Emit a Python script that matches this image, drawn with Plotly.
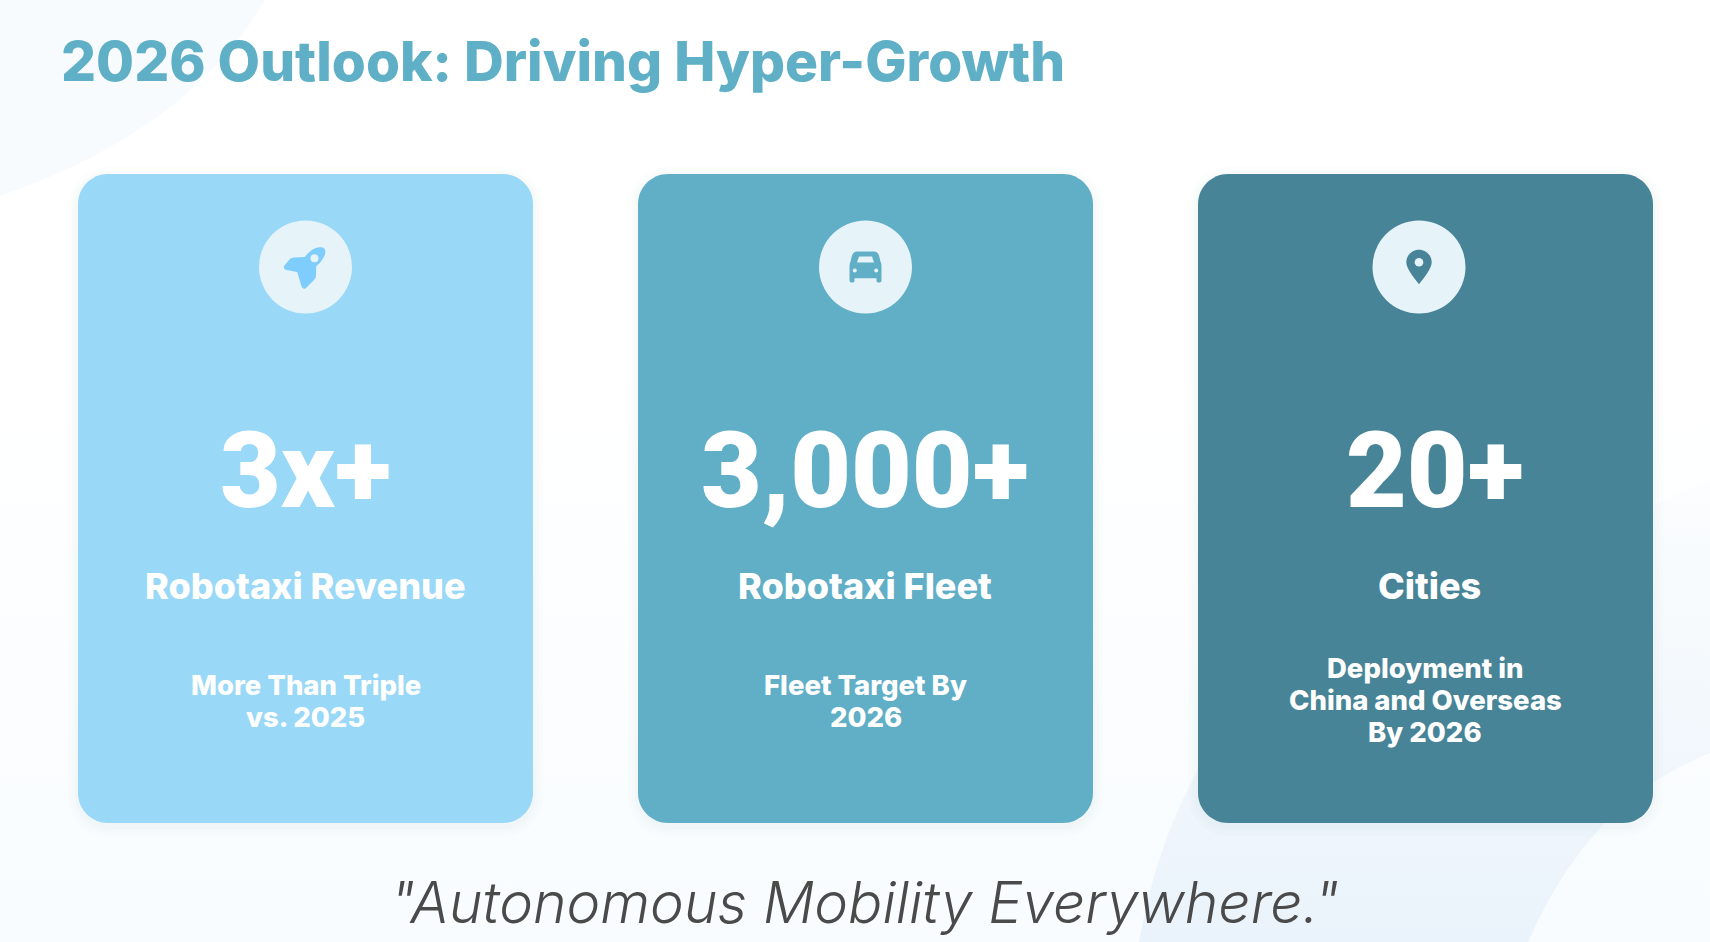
import re

import numpy as np
import plotly.graph_objects as go

# slide text
slide_title = "2026 Outlook: Driving Hyper-Growth"
slide_quote = '"Autonomous Mobility Everywhere."'
card_values = ["3x+", "3,000+", "20+"]
card_titles = ["Robotaxi Revenue", "Robotaxi Fleet", "Cities"]
card_notes = [
    ["More Than Triple", "vs. 2025"],
    ["Fleet Target By", "2026"],
    ["Deployment in", "China and Overseas", "By 2026"],
]

# layout, in pixels of the 1710x942 page
W, H = 1710, 942
CARD_LEFT = [78, 638, 1198]
CARD_W = 455
CARD_TOP, CARD_BOTTOM = 174, 823
CARD_R = 30
ICON_CX = [305.5, 865.5, 1419]
ICON_CY = 267
ICON_R = 46.5
VALUE_CX = [305, 865, 1435]
TITLE_CX = [305.5, 865, 1429]
NOTE_CX = [305.5, 865.5, 1425]
NOTE_BOTTOM = [727, 727, 742]

CARD_COLORS = ["#99D8F7", "#60AFC7", "#478497"]
ICON_COLORS = ["#7FCDFC", "#60AFC7", "#478497"]
CIRCLE_COLOR = "#E6F3F8"
TITLE_COLOR = "#5FAFC6"
QUOTE_COLOR = "#4A4A4A"
FONT = "Inter"
VALUE_FONT = "Roboto"

ROCKET = ("M14,-19.8 Q10,-19.5 6.7,-17.3 Q2,-14 -0.7,-10 L-12,-9.5 Q-15,-9.5 -16.5,-7 "
          "L-21.5,-1 Q-22.5,1.5 -20,2.7 L-8.3,5 L-5,16 Q-4,21 -1.7,21.7 Q-0.5,22 1,20.5 "
          "L8.5,13 Q10.5,11 10.5,8 L10.7,-0.7 Q15,-4 17.3,-8.3 Q19.3,-11 19.8,-14 "
          "Q20.5,-20.5 14,-19.8 Z")
CAR = ("M-8.5,-15.5 L8.5,-15.5 Q12,-15.5 13.5,-11.5 L15,-5.5 Q16,-3.5 16,-0.5 L16,13.5 Q16,15.5 14,15.5 "
       "L12.5,15.5 Q11,15.5 11,13.5 L11,11.2 L-11,11.2 L-11,13.5 Q-11,15.5 -12.5,15.5 L-14,15.5 "
       "Q-16,15.5 -16,13.5 L-16,-0.5 Q-16,-3.5 -15,-5.5 L-13.5,-11.5 Q-12,-15.5 -8.5,-15.5 Z "
       "M-6.5,-10.5 L6.5,-10.5 L8.5,-4.5 L-8.5,-4.5 Z")
PIN = ("M0,17.3 C-4,12 -12.7,2 -12.7,-4.7 C-12.7,-11.7 -7,-17.3 0,-17.3 "
       "C7,-17.3 12.7,-11.7 12.7,-4.7 C12.7,2 4,12 0,17.3 Z")
ICON_PATHS = [ROCKET, CAR, PIN]
# small round holes / lamps, relative to the icon centre: x, y, r
ICON_DOTS = [[(9, -8.7, 4)], [(-10.7, 3.5, 2), (10.7, 3.5, 2)], [(0, -4.7, 4.3)]]


def shift_path(path, dx, dy):
    """Move an absolute svg path by dx, dy."""
    def repl(m):
        return f"{float(m.group(1)) + dx:.2f},{float(m.group(2)) + dy:.2f}"
    return re.sub(r"(-?[\d.]+),(-?[\d.]+)", repl, path)


def rounded_rect(x0, y0, x1, y1, r):
    # k pulls the bezier handles so the corners come out as true arcs
    k = 0.45 * r
    return (f"M{x0 + r},{y0} L{x1 - r},{y0} C{x1 - k},{y0} {x1},{y0 + k} {x1},{y0 + r} "
            f"L{x1},{y1 - r} C{x1},{y1 - k} {x1 - k},{y1} {x1 - r},{y1} L{x0 + r},{y1} "
            f"C{x0 + k},{y1} {x0},{y1 - k} {x0},{y1 - r} L{x0},{y0 + r} "
            f"C{x0},{y0 + k} {x0 + k},{y0} {x0 + r},{y0} Z")


def quad(p0, p1, p2, n=40):
    t = np.linspace(0, 1, n)[:, None]
    p0, p1, p2 = np.array(p0), np.array(p1), np.array(p2)
    return (1 - t) ** 2 * p0 + 2 * t * (1 - t) * p1 + t ** 2 * p2


def add_text(text, cx, baseline, size, color, weight, anchor="center", italic=False, family=FONT):
    fig.add_annotation(
        x=cx, y=baseline - 0.36 * size, text=text, showarrow=False,
        xanchor=anchor, yanchor="middle",
        font=dict(family=family, size=size, color=color, weight=weight,
                  style="italic" if italic else "normal"),
    )


fig = go.Figure()

# page background, white fading to a very pale blue
fig.add_trace(go.Scatter(
    x=[0, W, W, 0, 0], y=[0, 0, H, H, 0], mode="lines", fill="toself",
    line=dict(width=0), hoverinfo="skip",
    fillgradient=dict(type="vertical", colorscale=[[0, "#F8FCFE"], [0.6, "#FFFFFF"], [1, "#FFFFFF"]]),
))

# pale blob top left
blob = quad((265, 0), (190, 130), (0, 196))
fig.add_trace(go.Scatter(
    x=[0, *blob[:, 0], 0], y=[0, *blob[:, 1], 0], mode="lines", fill="toself",
    line=dict(width=0), hoverinfo="skip", fillcolor="#F7FBFD",
))

# blue blob bottom right
left_edge = quad((1139, 942), (1165, 790), (1260, 680))
right_edge = quad((1710, 753), (1590, 800), (1528, 942))
blob_x = [*left_edge[:, 0], 1710, *right_edge[:, 0], 1139]
blob_y = [*left_edge[:, 1], 480, *right_edge[:, 1], 942]
fig.add_trace(go.Scatter(
    x=blob_x, y=blob_y, mode="lines", fill="toself",
    line=dict(width=0), hoverinfo="skip",
    fillgradient=dict(type="vertical", colorscale=[[0, "#EAF3FB"], [1, "#FBFDFE"]]),
))

for i, left in enumerate(CARD_LEFT):
    right = left + CARD_W

    # soft shadow under the card
    for grow in (10, 6, 3):
        fig.add_shape(
            type="path", layer="above", line_width=0, fillcolor="rgba(40,70,90,0.012)",
            path=rounded_rect(left - grow, CARD_TOP - grow + 3, right + grow, CARD_BOTTOM + grow + 3, CARD_R + grow),
        )
    fig.add_shape(
        type="path", layer="above", line_width=0, fillcolor=CARD_COLORS[i],
        path=rounded_rect(left, CARD_TOP, right, CARD_BOTTOM, CARD_R),
    )

    # icon badge
    cx = ICON_CX[i]
    fig.add_shape(
        type="circle", layer="above", line_width=0, fillcolor=CIRCLE_COLOR,
        x0=cx - ICON_R, x1=cx + ICON_R, y0=ICON_CY - ICON_R, y1=ICON_CY + ICON_R,
    )
    fig.add_shape(
        type="path", layer="above", line_width=0, fillcolor=ICON_COLORS[i],
        path=shift_path(ICON_PATHS[i], cx, ICON_CY),
    )
    for dx, dy, r in ICON_DOTS[i]:
        fig.add_shape(
            type="circle", layer="above", line_width=0, fillcolor=CIRCLE_COLOR,
            x0=cx + dx - r, x1=cx + dx + r, y0=ICON_CY + dy - r, y1=ICON_CY + dy + r,
        )

    add_text(card_values[i], VALUE_CX[i], 509, 105, "white", 900, family=VALUE_FONT)
    add_text(card_titles[i], TITLE_CX[i], 599, 36, "white", 800)
    lines = card_notes[i]
    for j, line in enumerate(lines):
        baseline = NOTE_BOTTOM[i] - 32 * (len(lines) - 1 - j)
        add_text(line, NOTE_CX[i], baseline, 27.5, "white", 800)

add_text(slide_title, 59, 81, 55, TITLE_COLOR, 800, anchor="left")
add_text(slide_quote, 864, 923, 57, QUOTE_COLOR, 300, italic=True)

fig.update_layout(
    width=W, height=H,
    margin=dict(l=0, r=0, t=0, b=0),
    paper_bgcolor="white", plot_bgcolor="white",
    showlegend=False,
    xaxis=dict(range=[0, W], visible=False, fixedrange=True),
    yaxis=dict(range=[H, 0], visible=False, fixedrange=True),
)

fig.write_html("out.html", config=dict(displayModeBar=False),
               post_script="document.body.style.margin='0';")
